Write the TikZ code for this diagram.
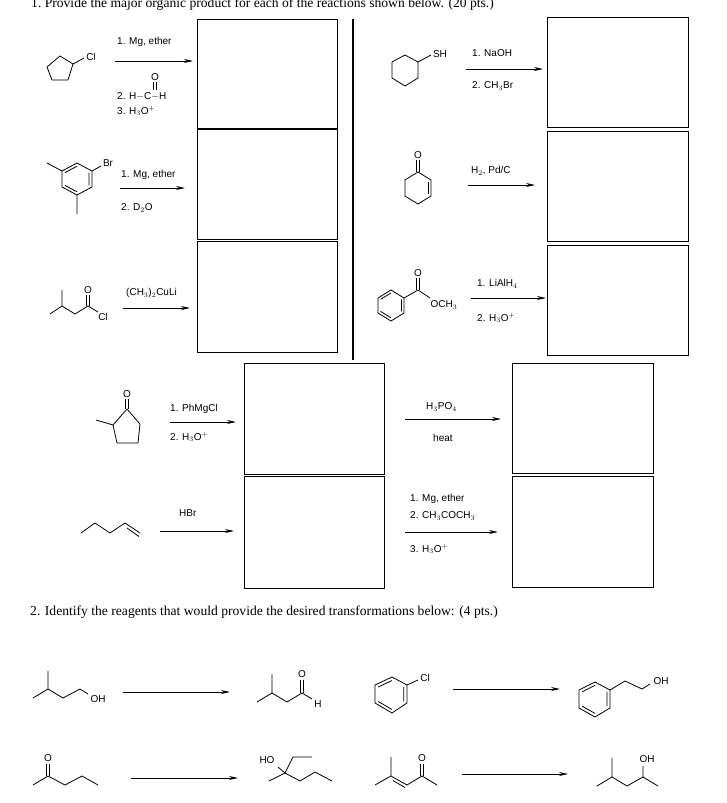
\documentclass[tikz,border=0pt]{standalone}
\usepackage{fontspec}
\setmainfont{Liberation Serif}
\setsansfont{Liberation Sans}
\usetikzlibrary{arrows.meta,calc}
\begin{document}
\begin{tikzpicture}[x=1pt,y=-1pt,
  answerbox/.style={draw,line width=1.4pt},
  rxn/.style={line width=0.8pt,-{Stealth[length=9pt,width=4pt]}},
  bond/.style={line width=0.8pt,line join=round},
  lab/.style={font=\sffamily\fontsize{10}{11}\selectfont,inner sep=0pt,anchor=west},
  atom/.style={font=\sffamily\fontsize{10}{11}\selectfont,inner sep=0.5pt},
  ttl/.style={font=\fontsize{13.6}{15}\selectfont,inner sep=0pt,anchor=base west}]
\useasboundingbox (0,0) rectangle (727,803);
% titles
\node[ttl] (t1) at (31,7) {1.\ Provide the major organic product for each of the reactions shown below. (20 pts.)};
\node[ttl] (t2) at (30,615) {2. Identify the reagents that would provide the desired transformations below: (4 pts.)};
% boxes
\node[answerbox,minimum width=140pt,minimum height=109pt,anchor=north west] (b1) at (197,19) {};
\node[answerbox,minimum width=140pt,minimum height=110pt,anchor=north west] (b2) at (197,129) {};
\node[answerbox,minimum width=140pt,minimum height=111pt,anchor=north west] (b3) at (197,241) {};
\node[answerbox,minimum width=141pt,minimum height=110pt,anchor=north west] (b4) at (547,17) {};
\node[answerbox,minimum width=141pt,minimum height=110pt,anchor=north west] (b5) at (547,131) {};
\node[answerbox,minimum width=141pt,minimum height=110pt,anchor=north west] (b6) at (547,245) {};
\node[answerbox,minimum width=140pt,minimum height=111pt,anchor=north west] (b7) at (244,363) {};
\node[answerbox,minimum width=140pt,minimum height=112pt,anchor=north west] (b8) at (244,476) {};
\node[answerbox,minimum width=141pt,minimum height=110pt,anchor=north west] (b9) at (512,363) {};
\node[answerbox,minimum width=141pt,minimum height=111pt,anchor=north west] (b10) at (512,476) {};
\coordinate (vt) at (353,19); \coordinate (vb) at (353,360);
\draw[line width=2.2pt] (vt) -- (vb);
% arrows
\coordinate (a1s) at (115,61); \coordinate (a1e) at (193,61); \draw[rxn] (a1s) -- (a1e);
\coordinate (a2s) at (120,188); \coordinate (a2e) at (185,188); \draw[rxn] (a2s) -- (a2e);
\coordinate (a3s) at (123,308); \coordinate (a3e) at (190,308); \draw[rxn] (a3s) -- (a3e);
\coordinate (a4s) at (466,69); \coordinate (a4e) at (543,69); \draw[rxn] (a4s) -- (a4e);
\coordinate (a5s) at (468,185); \coordinate (a5e) at (535,185); \draw[rxn] (a5s) -- (a5e);
\coordinate (a6s) at (471,298); \coordinate (a6e) at (546,298); \draw[rxn] (a6s) -- (a6e);
\coordinate (a7s) at (170,422); \coordinate (a7e) at (236,422); \draw[rxn] (a7s) -- (a7e);
\coordinate (a8s) at (405,419); \coordinate (a8e) at (501,419); \draw[rxn] (a8s) -- (a8e);
\coordinate (a9s) at (160,531); \coordinate (a9e) at (234,531); \draw[rxn] (a9s) -- (a9e);
\coordinate (a10s) at (405,532); \coordinate (a10e) at (498,532); \draw[rxn] (a10s) -- (a10e);
\coordinate (a11s) at (123,692); \coordinate (a11e) at (230,692); \draw[rxn] (a11s) -- (a11e);
\coordinate (a12s) at (453,689); \coordinate (a12e) at (560,689); \draw[rxn] (a12s) -- (a12e);
\coordinate (a13s) at (131,778); \coordinate (a13e) at (238,778); \draw[rxn] (a13s) -- (a13e);
\coordinate (a14s) at (462,774); \coordinate (a14e) at (568,774); \draw[rxn] (a14s) -- (a14e);
% reagent labels
\node[lab] (l1) at (117,42) {1. Mg, ether};
\node[lab] (l2) at (117,96) {2. H$-$C$-$H};
\node[atom] (l2o) at (155,77) {O};
\draw[bond] (153.5,82) -- (153.5,90) (156.5,82) -- (156.5,90);
\node[lab] (l3) at (117,111) {3. H$_3$O$^+$};
\node[lab] (l4) at (121,175) {1. Mg, ether};
\node[lab] (l5) at (121,208) {2. D$_2$O};
\node[lab] (l6) at (126,293) {(CH$_3$)$_2$CuLi};
\node[lab] (l7) at (472,53) {1. NaOH};
\node[lab] (l8) at (472,86) {2. CH$_3$Br};
\node[lab] (l9) at (471,171) {H$_2$, Pd/C};
\node[lab] (l10) at (477,284) {1. LiAlH$_4$};
\node[lab] (l11) at (477,318) {2. H$_3$O$^+$};
\node[lab] (l12) at (170,409) {1. PhMgCl};
\node[lab] (l13) at (170,437) {2. H$_3$O$^+$};
\node[lab] (l14) at (426,407) {H$_3$PO$_4$};
\node[lab] (l15) at (433,438) {heat};
\node[lab] (l16) at (179,513) {HBr};
\node[lab] (l17) at (410,499) {1. Mg, ether};
\node[lab] (l18) at (410,516) {2. CH$_3$COCH$_3$};
\node[lab] (l19) at (410,549) {3. H$_3$O$^+$};
% molecule 1: chlorocyclopentane
\draw[bond] (47,67) -- (60,56) -- (73,64) -- (68,80) -- (52,80) -- cycle;
\draw[bond] (73,64) -- (84,58);
\node[atom] (cl1) at (91,57) {Cl};
% molecule 2: 1-bromo-3,5-dimethylbenzene
\coordinate (c2) at (77,179);
\draw[bond] (77,163) -- (92,171) -- (92,187) -- (77,195) -- (62,187) -- (62,171) -- cycle;
\draw[bond] ($(77,163)!0.2!(c2)$) -- ($(62,171)!0.2!(c2)$)
  ($(92,171)!0.2!(c2)$) -- ($(92,187)!0.2!(c2)$)
  ($(77,195)!0.2!(c2)$) -- ($(62,187)!0.2!(c2)$);
\draw[bond] (62,171) -- (47,163) (77,195) -- (77,214) (92,171) -- (101,166);
\node[atom] (br2) at (108,163) {Br};
% molecule 3: acid chloride
\draw[bond] (50,314) -- (62,306) -- (62,290) (62,306) -- (75,314) -- (88,306) -- (98,312);
\draw[bond] (86.5,306) -- (86.5,295) (89.5,306) -- (89.5,295);
\node[atom] (o3) at (88,290) {O};
\node[atom] (cl3) at (103,317) {Cl};
% molecule 4: cyclohexanethiol
\draw[bond] (405,55) -- (418,62) -- (418,78) -- (405,86) -- (392,78) -- (392,62) -- cycle;
\draw[bond] (418,62) -- (431,55);
\node[atom] (sh4) at (440,54) {SH};
% molecule 5: cyclohexenone
\draw[bond] (418,172) -- (431,180) -- (431,196) -- (418,204) -- (405,196) -- (405,180) -- cycle;
\draw[bond] (428,182) -- (428,194);
\draw[bond] (416.5,172) -- (416.5,160) (419.5,172) -- (419.5,160);
\node[atom] (o5) at (418,155) {O};
% molecule 6: methyl benzoate
\coordinate (c6) at (391,305);
\draw[bond] (391,290) -- (404,298) -- (404,313) -- (391,321) -- (378,313) -- (378,298) -- cycle;
\draw[bond] ($(391,290)!0.2!(c6)$) -- ($(378,298)!0.2!(c6)$)
  ($(404,298)!0.2!(c6)$) -- ($(404,313)!0.2!(c6)$)
  ($(391,321)!0.2!(c6)$) -- ($(378,313)!0.2!(c6)$);
\draw[bond] (404,298) -- (418,290) -- (430,298);
\draw[bond] (416.5,290) -- (416.5,278) (419.5,290) -- (419.5,278);
\node[atom] (o6) at (418,273) {O};
\node[atom,anchor=west] (och6) at (430,305) {OCH$_3$};
% molecule 7: 2-methylcyclopentanone
\draw[bond] (127,409) -- (140,424) -- (138,443) -- (117,443) -- (113,425) -- cycle;
\draw[bond] (113,425) -- (96,420);
\draw[bond] (125.5,409) -- (125.5,399) (128.5,409) -- (128.5,399);
\node[atom] (o7) at (127,394) {O};
% molecule 8: 1-pentene
\draw[bond] (81,533) -- (95,523) -- (110,533) -- (125,523) -- (140,533);
\draw[bond] (127,528) -- (139,536.5);
% section 2 row 1
\draw[bond] (33,698) -- (48,689) -- (48,671) (48,689) -- (63,698) -- (80,689) -- (88,694);
\node[atom] (oh9) at (98,699) {OH};
\draw[bond] (257,702) -- (272,693) -- (272,674) (272,693) -- (287,702) -- (302,693) -- (312,699);
\draw[bond] (300.5,693) -- (300.5,680) (303.5,693) -- (303.5,680);
\node[atom] (o10) at (302,674) {O};
\node[atom] (h10) at (318,704) {H};
\coordinate (c11) at (391,695);
\draw[bond] (392,677) -- (407,685) -- (407,703) -- (392,713) -- (375,703) -- (375,685) -- cycle;
\draw[bond] ($(392,677)!0.2!(c11)$) -- ($(375,685)!0.2!(c11)$)
  ($(407,685)!0.2!(c11)$) -- ($(407,703)!0.2!(c11)$)
  ($(392,713)!0.2!(c11)$) -- ($(375,703)!0.2!(c11)$);
\draw[bond] (407,685) -- (418,680);
\node[atom] (cl11) at (425,678) {Cl};
\coordinate (c12) at (595,699);
\draw[bond] (595,682) -- (610,690) -- (610,708) -- (595,717) -- (579,708) -- (579,690) -- cycle;
\draw[bond] ($(595,682)!0.2!(c12)$) -- ($(579,690)!0.2!(c12)$)
  ($(610,690)!0.2!(c12)$) -- ($(610,708)!0.2!(c12)$)
  ($(595,717)!0.2!(c12)$) -- ($(579,708)!0.2!(c12)$);
\draw[bond] (610,690) -- (625,681) -- (642,689) -- (650,684);
\node[atom] (oh12) at (661,681) {OH};
% section 2 row 2
\draw[bond] (33,785) -- (48,776) -- (65,785) -- (82,776) -- (98,785);
\draw[bond] (46.5,776) -- (46.5,764) (49.5,776) -- (49.5,764);
\node[atom] (o13) at (48,758) {O};
\draw[bond] (269,781) -- (285,773) -- (300,781) -- (315,772) -- (332,781) (285,773) -- (293,757) -- (312,757) (285,773) -- (278,767);
\node[atom] (ho14) at (267,760) {HO};
\draw[bond] (375,785) -- (391,776) -- (391,757) (391,776) -- (407,785) -- (422,776) -- (437,785);
\draw[bond] (393,780.5) -- (405,787.5);
\draw[bond] (420.5,776) -- (420.5,764) (423.5,776) -- (423.5,764);
\node[atom] (o15) at (422,758) {O};
\draw[bond] (597,786) -- (612,777) -- (612,758) (612,777) -- (627,786) -- (643,777) -- (658,786) (643,777) -- (643,766);
\node[atom] (oh16) at (647,759) {OH};
\end{tikzpicture}
\end{document}
